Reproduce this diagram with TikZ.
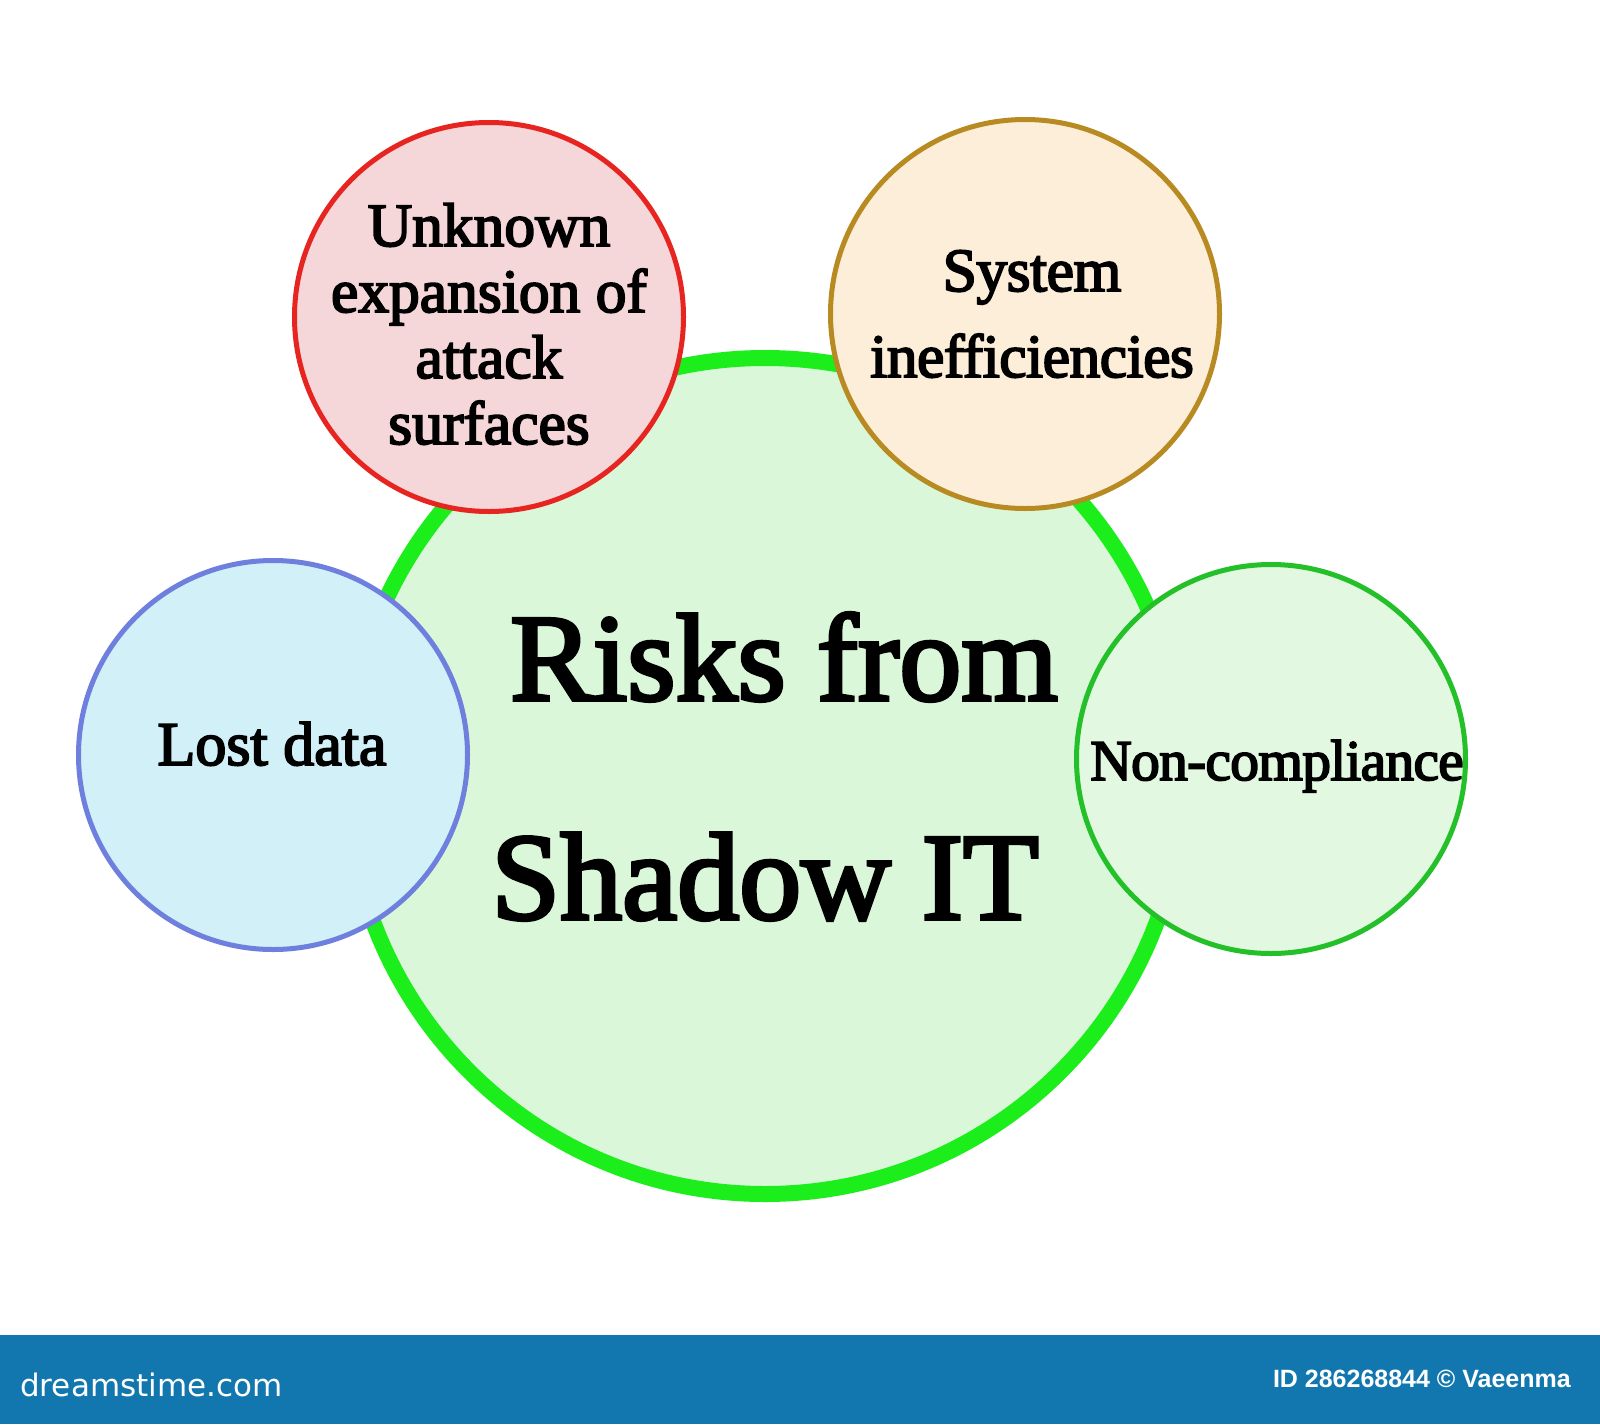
\documentclass[tikz,border=0pt]{standalone}
\usepackage{fontspec}
\setmainfont{Liberation Serif}
\newfontfamily\heavyfont{Liberation Serif}[FakeBold=3]
\newfontfamily\barfont{DejaVu Sans}
\newfontfamily\idfont{Liberation Sans}
\definecolor{bigS}{HTML}{1CEE1C}
\definecolor{bigF}{HTML}{DAF7DA}
\definecolor{redS}{HTML}{E62520}
\definecolor{redF}{HTML}{F5D6D9}
\definecolor{goldS}{HTML}{B88A22}
\definecolor{goldF}{HTML}{FCEED8}
\definecolor{blueS}{HTML}{6F7FDD}
\definecolor{blueF}{HTML}{D2F0F8}
\definecolor{grnS}{HTML}{24C02A}
\definecolor{grnF}{HTML}{E2F8E0}
\definecolor{barblue}{HTML}{1177AE}
\begin{document}
\begin{tikzpicture}[x=1pt,y=-1pt,
  bigc/.style={circle, minimum size=836pt, inner sep=0pt, line width=16pt, draw=bigS, fill=bigF},
  smallc/.style={circle, minimum size=389pt, inner sep=0pt, line width=5pt},
  smalltxt/.style={inner sep=0pt, align=center, text=black},
  titletxt/.style={inner sep=0pt, anchor=base, text=black, font={\heavyfont\fontsize{124}{124}\selectfont}},
  bartxt/.style={inner sep=0pt, text=white}]
\useasboundingbox (0,0) rectangle (1600,1424);
\fill[white] (0,0) rectangle (1600,1424);
% central circle
\node[bigc] (main) at (765,776) {};
% satellite circles
\node[smallc, draw=redS, fill=redF] (unk) at (489,317) {};
\node[smallc, draw=goldS, fill=goldF] (sys) at (1025,314) {};
\node[smallc, draw=blueS, fill=blueF] (lost) at (273,755) {};
\node[smallc, draw=grnS, fill=grnF] (non) at (1271,759) {};
% texts
\node[titletxt] (t1) at (784,700) {Risks from};
\node[titletxt] (t2) at (765,919) {Shadow IT};
\node[smalltxt, font={\heavyfont\fontsize{61.5}{66}\selectfont}] (unkT) at (489,324) {Unknown\\expansion of\\attack\\surfaces};
\node[smalltxt, font={\heavyfont\fontsize{61.5}{86}\selectfont\addfontfeature{LetterSpace=-0.8}}] (sysT) at (1032,314) {System\\inefficiencies};
\node[smalltxt, anchor=base, font={\heavyfont\fontsize{62}{66}\selectfont}] (lostT) at (272,765) {Lost data};
\node[smalltxt, anchor=base, font={\heavyfont\fontsize{57.5}{62}\selectfont\addfontfeature{LetterSpace=-1.3}}] (nonT) at (1277,780) {Non-compliance};
% bottom bar
\fill[barblue] (0,1335) rectangle (1600,1424);
\node[bartxt, anchor=base west, font={\barfont\fontsize{31}{31}\selectfont}] (ds) at (20,1396) {dreamstime.com};
\node[bartxt, anchor=base east, font={\idfont\bfseries\fontsize{25}{25}\selectfont}] (id) at (1571,1387) {ID 286268844 © Vaeenma};
\end{tikzpicture}
\end{document}
